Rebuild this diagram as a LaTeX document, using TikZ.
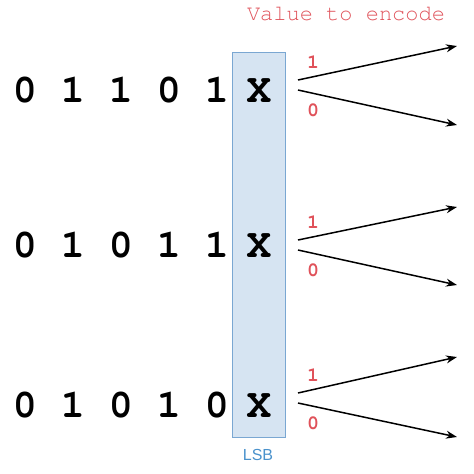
\documentclass[tikz,border=0pt]{standalone}
\usepackage{fontspec}
\setsansfont{Liberation Sans}
\usetikzlibrary{arrows.meta}
\newcommand\courfont{\fontencoding{T1}\fontfamily{pcr}\selectfont}
\definecolor{lsbfill}{HTML}{D6E4F2}
\definecolor{lsbdraw}{HTML}{7AA7D2}
\definecolor{lsbtext}{HTML}{4A92CC}
\definecolor{redlab}{HTML}{E0525A}
\tikzset{
  bits/.style={font=\courfont\bfseries\fontsize{40}{42}\selectfont, inner sep=0pt, anchor=base},
  xbit/.style={font=\courfont\bfseries\fontsize{41}{43}\selectfont, inner sep=0pt, anchor=base},
  lab/.style={font=\courfont\bfseries\fontsize{20}{22}\selectfont, text=redlab, inner sep=0pt},
  branch/.style={line width=1.5pt, -{Stealth[length=11pt,width=8pt]}},
}
\begin{document}
\begin{tikzpicture}[x=1pt,y=-1pt]
\useasboundingbox (0,0) rectangle (474,474);
\fill[white] (0,0) rectangle (474,474);
\draw[fill=lsbfill, draw=lsbdraw, line width=1pt] (232,52) rectangle (285,437);
\node[font=\sffamily\fontsize{16}{18}\selectfont, text=lsbtext] (lsb) at (258,455) {LSB};
\node[font=\courfont\fontsize{22}{24}\selectfont, text=redlab] (title) at (346,14) {Value to encode};
% rows
\foreach \r/\s/\y in {a/{0 1 1 0 1}/102, b/{0 1 0 1 1}/257, c/{0 1 0 1 0}/417}{
  \node[bits, anchor=base east] (d\r) at (229,\y) {\s};
  \node[xbit] (x\r) at (259,\y) {X};
}
% branches
\foreach \r/\ya/\yb/\ye/\yf/\yl/\yo in {a/80/90/46/125/62/110, b/240/250/207/285/222/270, c/393/403/357/437/375/423}{
  \coordinate (s1\r) at (298,\ya);
  \coordinate (s0\r) at (298,\yb);
  \coordinate (e1\r) at (457,\ye);
  \coordinate (e0\r) at (457,\yf);
  \draw[branch] (s1\r) -- (e1\r);
  \draw[branch] (s0\r) -- (e0\r);
  \node[lab] (one\r) at (313,\yl) {1};
  \node[lab] (zero\r) at (313,\yo) {0};
}
\end{tikzpicture}
\end{document}
